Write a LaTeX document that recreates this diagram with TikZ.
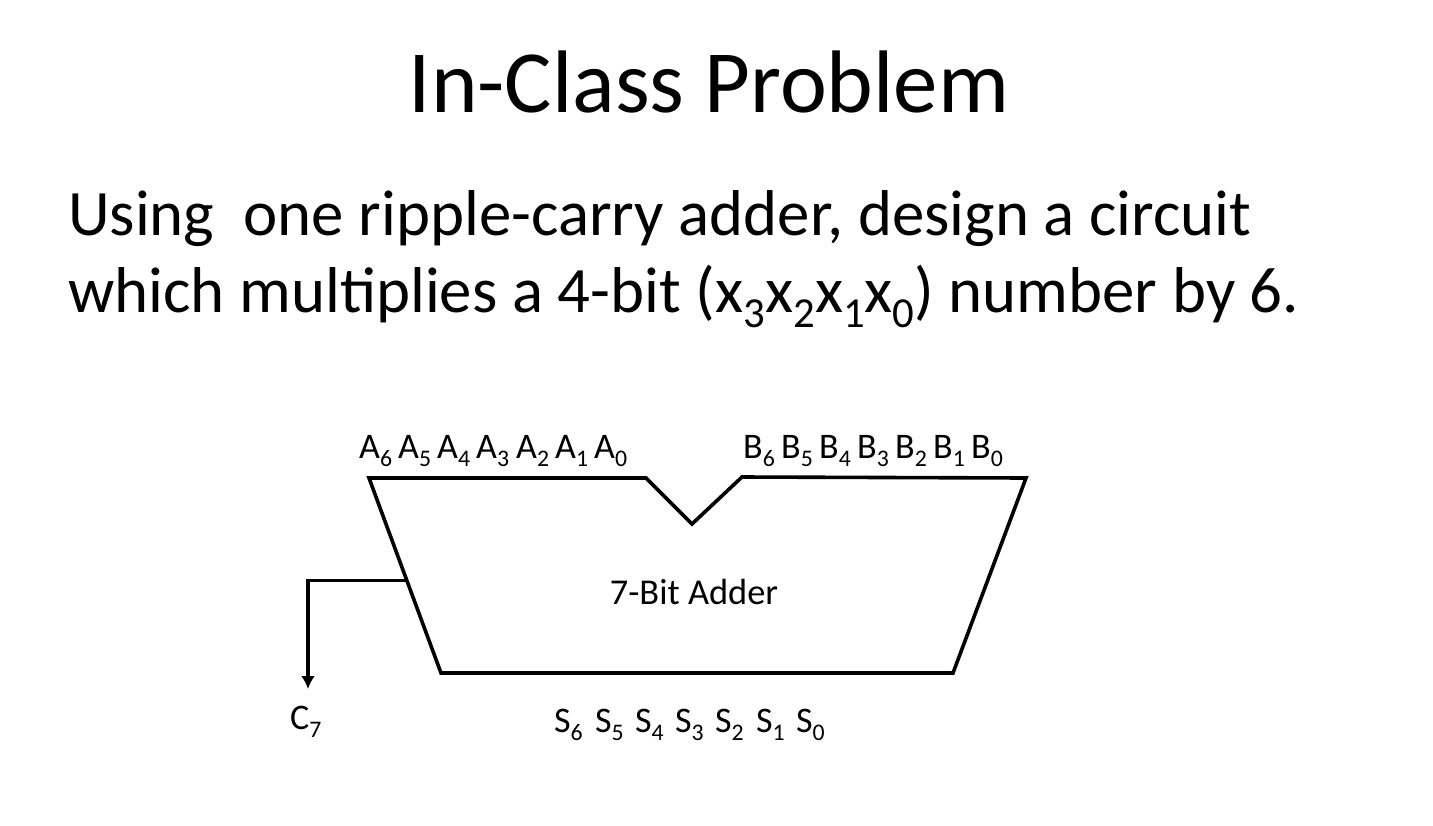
\documentclass[tikz,border=0pt]{standalone}
\usepackage{fontspec}
\setmainfont{Carlito}
\usetikzlibrary{arrows.meta}
\tikzset{
  shapeline/.style={line width=3.6pt,line join=miter},
  lab/.style={inner sep=0pt,anchor=base west,font=\fontsize{36}{36}\selectfont},
  bodytext/.style={inner sep=0pt,anchor=base west,font=\fontsize{64.8}{64.8}\selectfont},
  titletext/.style={inner sep=0pt,anchor=base,font=\fontsize{88.8}{88.8}\selectfont},
}
\newcommand{\ssub}[1]{\raisebox{-0.22em}{\fontsize{0.66em}{1em}\selectfont #1}}
\makeatletter
\newcommand{\subb}[1]{\raisebox{-0.24em}{\fontsize{\dimexpr0.66\dimexpr\f@size pt\relax\relax}{1em}\selectfont #1}}
\makeatother
\begin{document}
\begin{tikzpicture}[x=1pt,y=-1pt]
\useasboundingbox (0,0) rectangle (1433,825);
\node[titletext] (title) at (709,112) {In-Class Problem};
\node[bodytext] (l1) at (68,235) {Using\ \ one ripple-carry adder, design a circuit};
\node[bodytext] (l2) at (68,312) {which multiplies a 4-bit (x\subb{3}x\subb{2}x\subb{1}x\subb{0}) number by 6.};
\draw[shapeline] (369,478) -- (646,478) -- (692,524) -- (742,477) -- (1026,478) -- (953,673) -- (441,673) -- cycle;
\node[inner sep=0pt,font=\fontsize{36.4}{36.4}\selectfont] (adder) at (694,592) {7-Bit Adder};
\coordinate (tap) at (406,580.5);
\coordinate (corner) at (308,580.5);
\coordinate (cend) at (308,689);
\draw[line width=3.6pt,-{Latex[length=13pt,width=14pt]}] (tap) -- (corner) -- (cend);
\node[lab] (a6) at (359,458) {A\subb{6}};
\node[lab] (a5) at (398,458) {A\subb{5}};
\node[lab] (a4) at (437,458) {A\subb{4}};
\node[lab] (a3) at (476,458) {A\subb{3}};
\node[lab] (a2) at (516,458) {A\subb{2}};
\node[lab] (a1) at (555,458) {A\subb{1}};
\node[lab] (a0) at (594,458) {A\subb{0}};
\node[lab] (b6) at (743,458) {B\subb{6}};
\node[lab] (b5) at (781,458) {B\subb{5}};
\node[lab] (b4) at (819,458) {B\subb{4}};
\node[lab] (b3) at (857,458) {B\subb{3}};
\node[lab] (b2) at (895,458) {B\subb{2}};
\node[lab] (b1) at (933,458) {B\subb{1}};
\node[lab] (b0) at (971,458) {B\subb{0}};
\node[lab] (c7) at (290,729) {C\subb{7}};
\node[lab] (s6) at (554,732) {S\subb{6}};
\node[lab] (s5) at (595,732) {S\subb{5}};
\node[lab] (s4) at (635,732) {S\subb{4}};
\node[lab] (s3) at (675,732) {S\subb{3}};
\node[lab] (s2) at (715,732) {S\subb{2}};
\node[lab] (s1) at (756,732) {S\subb{1}};
\node[lab] (s0) at (796,732) {S\subb{0}};
\end{tikzpicture}
\end{document}
